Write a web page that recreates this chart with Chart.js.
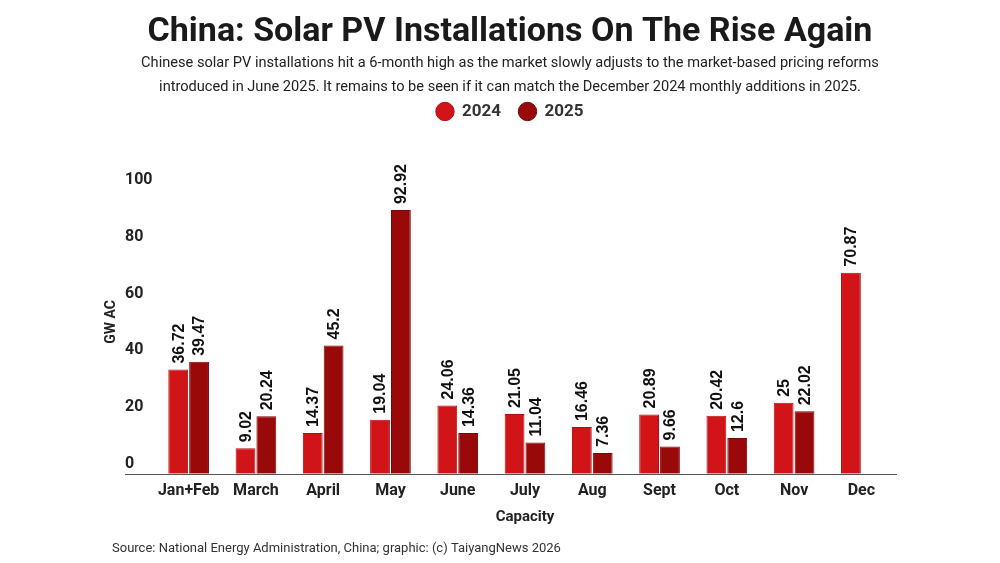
<!DOCTYPE html>
<html>
<head>
<meta charset="utf-8">
<script src="https://cdn.jsdelivr.net/npm/chart.js@4"></script>
<style>
  html, body { margin: 0; padding: 0; background: #fff; }
  #wrap { width: 1000px; height: 563px; }
</style>
</head>
<body>
<div id="wrap"><canvas id="canvas"></canvas></div>
<script>
// chart data
const months = ['Jan+Feb', 'March', 'April', 'May', 'June', 'July', 'Aug', 'Sept', 'Oct', 'Nov', 'Dec'];
const values2024 = [36.72, 9.02, 14.37, 19.04, 24.06, 21.05, 16.46, 20.89, 20.42, 25, 70.87];
const values2025 = [39.47, 20.24, 45.2, 92.92, 14.36, 11.04, 7.36, 9.66, 12.6, 22.02, null];
const yTicks = [0, 20, 40, 60, 80, 100];

const FONT = 'Roboto';
const TEXT = '#222';

// extra room between legend and plot
const legendGap = {
    id: 'legendGap',
    beforeInit(chart) {
        const fit = chart.legend.fit;
        chart.legend.fit = function () {
            fit.call(this);
            this.height += 60;
        };
    }
};

// value labels above each bar, rotated
const barLabels = {
    id: 'barLabels',
    afterDatasetsDraw(chart) {
        const ctx = chart.ctx;
        ctx.save();
        ctx.font = 'bold 16px "Liberation Sans", Arial, sans-serif';
        ctx.fillStyle = '#111';
        ctx.textAlign = 'left';
        ctx.textBaseline = 'middle';
        chart.data.datasets.forEach((ds, i) => {
            const meta = chart.getDatasetMeta(i);
            meta.data.forEach((bar, j) => {
                const v = ds.data[j];
                if (v === null || v === undefined) return;
                ctx.save();
                ctx.translate(bar.x, bar.y - 6);
                ctx.rotate(-Math.PI / 2);
                ctx.fillText(String(v), 0, 1);
                ctx.restore();
            });
        });
        ctx.restore();
    }
};

// baseline under the y labels, y title and source note
const extras = {
    id: 'extras',
    afterDraw(chart) {
        const ctx = chart.ctx;
        const y0 = chart.scales.y.getPixelForValue(0);
        ctx.save();
        ctx.strokeStyle = '#555';
        ctx.lineWidth = 1;
        ctx.beginPath();
        ctx.moveTo(125, Math.round(y0) + 0.5);
        ctx.lineTo(chart.chartArea.right + 2, Math.round(y0) + 0.5);
        ctx.stroke();

        // y axis title
        ctx.save();
        ctx.translate(111, 322);
        ctx.rotate(-Math.PI / 2);
        ctx.font = 'bold 14px ' + FONT;
        ctx.fillStyle = TEXT;
        ctx.textAlign = 'center';
        ctx.textBaseline = 'middle';
        ctx.fillText('GW AC', 0, 0);
        ctx.restore();

        ctx.font = '13px ' + FONT;
        ctx.fillStyle = '#333';
        ctx.textAlign = 'left';
        ctx.textBaseline = 'middle';
        ctx.fillText('Source: National Energy Administration, China; graphic: (c) TaiyangNews 2026', 112, 549);
        ctx.restore();
    }
};

new Chart(document.getElementById('canvas'), {
    type: 'bar',
    data: {
        labels: months,
        datasets: [{
            label: '2024',
            data: values2024,
            backgroundColor: '#d01418',
            borderColor: '#b00e12',
            borderWidth: 1,
            categoryPercentage: 0.62,
            barPercentage: 0.95
        }, {
            label: '2025',
            data: values2025,
            backgroundColor: '#990909',
            borderColor: '#7a0606',
            borderWidth: 1,
            categoryPercentage: 0.62,
            barPercentage: 0.95
        }]
    },
    options: {
        responsive: true,
        maintainAspectRatio: false,
        animation: false,
        layout: { padding: { left: 125, right: 105, bottom: 37, top: 8 } },
        plugins: {
            title: {
                display: true,
                text: 'China: Solar PV Installations On The Rise Again',
                color: '#1a1a1a',
                font: { family: FONT, size: 34, weight: 'bold', lineHeight: 1.2 },
                padding: { top: 4, bottom: 0 }
            },
            subtitle: {
                display: true,
                text: [
                    'Chinese solar PV installations hit a 6-month high as the market slowly adjusts to the market-based pricing reforms',
                    'introduced in June 2025. It remains to be seen if it can match the December 2024 monthly additions in 2025.'
                ],
                color: TEXT,
                font: { family: FONT, size: 14.6, lineHeight: 1.65 },
                padding: { top: -2, bottom: -14 }
            },
            legend: {
                display: true,
                labels: {
                    usePointStyle: true,
                    pointStyle: 'circle',
                    boxWidth: 17,
                    boxHeight: 13,
                    color: '#333',
                    font: { family: FONT, size: 17, weight: 'bold' },
                    padding: 18
                }
            },
            tooltip: { enabled: false }
        },
        scales: {
            x: {
                grid: { display: false },
                border: { display: false },
                ticks: {
                    color: TEXT,
                    font: { family: FONT, size: 16, weight: 'bold' },
                    padding: 0,
                    minRotation: 0,
                    maxRotation: 0,
                    autoSkip: false
                },
                title: {
                    display: true,
                    text: 'Capacity',
                    color: TEXT,
                    font: { family: FONT, size: 15, weight: 'bold' },
                    padding: { top: 7, bottom: 0 }
                }
            },
            y: {
                min: yTicks[0],
                max: yTicks[yTicks.length - 1],
                afterBuildTicks(scale) {
                    scale.ticks = yTicks.map(v => ({ value: v }));
                },
                afterFit(scale) {
                    scale.width = 30;
                },
                grid: { display: false },
                border: { display: false },
                ticks: {
                    color: TEXT,
                    font: { family: FONT, size: 16, weight: 'bold' },
                    crossAlign: 'far',
                    labelOffset: -10,
                    padding: 2
                }
            }
        }
    },
    plugins: [legendGap, barLabels, extras]
});
</script>
</body>
</html>
